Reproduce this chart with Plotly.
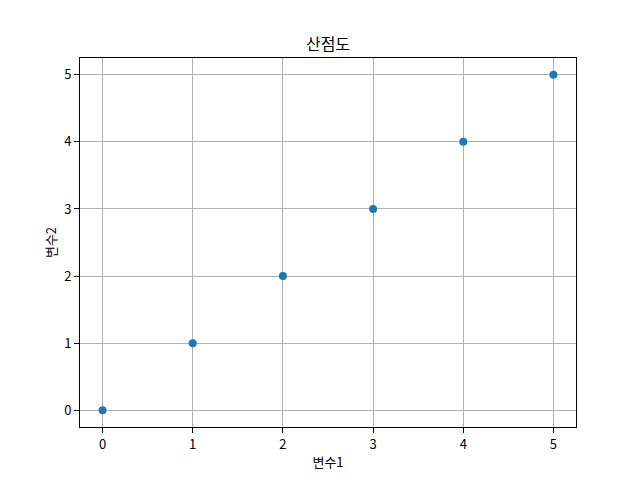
import plotly.graph_objects as go

# data
x_vals = [0, 1, 2, 3, 4, 5]
y_vals = [0, 1, 2, 3, 4, 5]
tick_vals = [0, 1, 2, 3, 4, 5]

font_name = "Noto Sans CJK KR, DejaVu Sans"

fig = go.Figure()
fig.add_trace(go.Scatter(x=x_vals, y=y_vals, mode='markers',
                         marker=dict(color='#1f77b4', size=8, line=dict(width=0))))

axis_style = dict(
    showgrid=True, gridcolor='#b0b0b0', gridwidth=1,
    showline=True, linecolor='black', linewidth=1, mirror=True,
    ticks='outside', ticklen=5, tickwidth=1, tickcolor='black',
    tickvals=tick_vals, zeroline=False, layer='above traces',
    tickfont=dict(size=13, color='black', family=font_name),
)

# the page puts the figure 8px in from the top-left, margins account for that
fig.update_layout(
    width=640, height=480,
    margin=dict(l=72, r=72, t=50, b=61),
    paper_bgcolor='white', plot_bgcolor='white',
    showlegend=False,
    font=dict(family=font_name, color='black'),
    title=dict(text='산점도', x=0.5, xanchor='center', y=0.912, yanchor='bottom',
               font=dict(size=16, color='black', family=font_name)),
)
fig.update_xaxes(range=[-0.25, 5.25], title=dict(text='변수1', font=dict(size=13), standoff=6), **axis_style)
fig.update_yaxes(range=[-0.25, 5.25], title=dict(text='변수2', font=dict(size=13), standoff=4), **axis_style)

fig.write_html("out.html")
